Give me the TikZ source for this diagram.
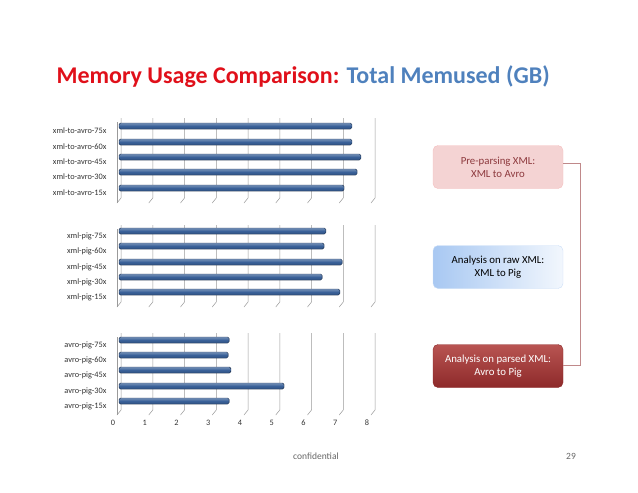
\documentclass[tikz,border=0pt]{standalone}
\usepackage{fontspec}
\setmainfont{Carlito}
\definecolor{barb}{HTML}{3A6199}
\definecolor{ttlred}{HTML}{E0101A}
\definecolor{ttlblue}{HTML}{4F81BD}
\definecolor{grid}{HTML}{9A9A9A}
\definecolor{link}{HTML}{C0898A}
\definecolor{pinkbox}{HTML}{F4D3D3}
\definecolor{bluebox}{HTML}{A8C8F2}
\definecolor{redtop}{HTML}{B85452}
\definecolor{redbot}{HTML}{8E2A2A}
\tikzset{
 lbl/.style={anchor=east,font=\fontsize{8.3}{9}\selectfont,text=black!80},
 bar/.style={draw=barb!60!black,line width=0.4pt,top color=barb!70!white,bottom color=barb!85!black,middle color=barb,rounded corners=1.5pt},
 gl/.style={draw=grid,line width=0.5pt},
 box/.style={rounded corners=5pt,minimum width=130pt,minimum height=43pt,align=center,font=\fontsize{10.8}{13}\selectfont},
 tick/.style={font=\fontsize{8.3}{9}\selectfont,text=black!80}
}
\begin{document}
\begin{tikzpicture}[x=1pt,y=-1pt]
\useasboundingbox (0,0) rectangle (638,493);
\node[anchor=west,font=\fontsize{24}{28}\selectfont\bfseries] (title) at (53,77) {\textcolor{ttlred}{Memory Usage Comparison:} \textcolor{ttlblue}{Total Memused (GB)}};
\foreach \yt/\yb in {118/198,225/302,333/410}{
  \foreach \i in {0,...,8}{
    \draw[gl] ({117+\i*31.75+4},\yt) -- ({117+\i*31.75+4},\yb) -- ({117+\i*31.75},\yb+5);
  }
  \draw[gl] (117,\yt+4) -- (117,\yb+5);
}
\foreach \i in {0,...,8}{\node[tick] (t\i) at ({113+\i*31.75},423) {\i};}
\foreach \name/\y/\v in {xml-to-avro-75x/126/7.4,xml-to-avro-60x/142/7.4,xml-to-avro-45x/157/7.68,xml-to-avro-30x/172/7.56,xml-to-avro-15x/188/7.15,
 xml-pig-75x/231/6.58,xml-pig-60x/246/6.52,xml-pig-45x/262/7.09,xml-pig-30x/277/6.46,xml-pig-15x/292/7.02,
 avro-pig-75x/340/3.53,avro-pig-60x/355/3.5,avro-pig-45x/370/3.59,avro-pig-30x/386/5.26,avro-pig-15x/401/3.53}{
  \fill[bar] (119,\y-3) rectangle ({117+\v*31.75},\y+3);
  \node[lbl] (l-\name) at (110,\y+5) {\name};
}
\node[box,fill=pinkbox,draw=pinkbox!90!red,text=ttlred!50!black!80] (pre) at (498,167) {Pre-parsing XML:\\XML to Avro};
\node[box,left color=bluebox,right color=bluebox!15,draw=bluebox!60,text=black] (raw) at (498,267) {Analysis on raw XML:\\XML to Pig};
\node[box,top color=redtop,bottom color=redbot,draw=redbot,text=white] (par) at (498,366) {Analysis on parsed XML:\\Avro to Pig};
\coordinate (c1) at (580,163);
\coordinate (c2) at (580,365);
\draw[link,line width=0.6pt] (pre.east|-c1) -- (c1) -- (c2) -- (par.east|-c2);
\node[font=\fontsize{9.5}{11}\selectfont,text=black!60] (conf) at (316,456) {confidential};
\node[font=\fontsize{9.5}{11}\selectfont,text=black!60] (pg) at (571,456) {29};
\end{tikzpicture}
\end{document}
